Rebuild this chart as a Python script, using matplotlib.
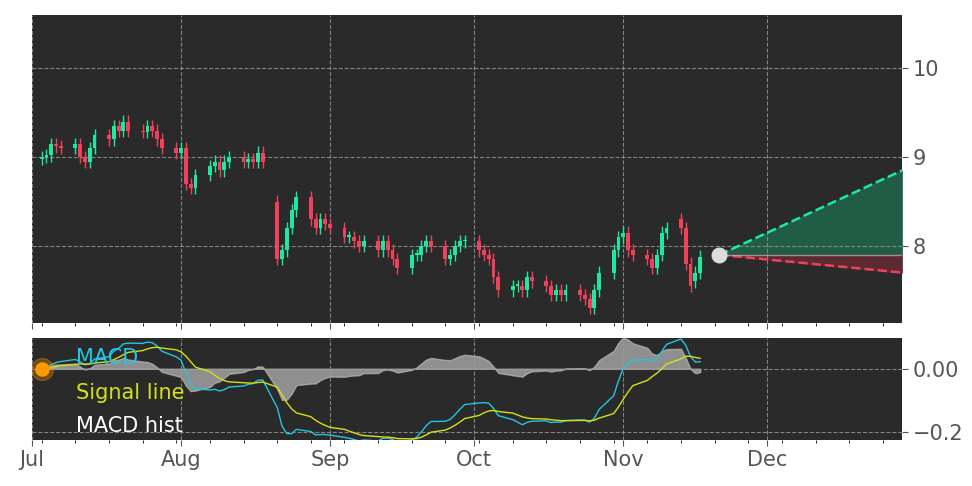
import numpy as np
import pandas as pd
import matplotlib.pyplot as plt
import matplotlib.dates as mdates

dates = pd.bdate_range('2023-07-03', '2023-11-17')
opens = [8.98, 9.0, 9.02, 9.15, 9.12, 9.1, 9.15, 9.0, 8.95, 9.1, 9.25, 9.2, 9.35, 9.3, 9.4, 9.3, 9.28, 9.35, 9.3, 9.2, 9.1,
         9.05, 9.1, 8.7, 8.65, 8.8, 8.9, 8.95, 8.85, 8.95, 9.0, 8.95, 8.98, 8.95, 9.05, 8.5, 7.85, 7.95, 8.2, 8.4, 8.55, 8.3, 8.2, 8.3,
         8.25, 8.2, 8.1, 8.1, 8.05, 8.0, 8.05, 7.95, 8.05, 7.95, 7.85, 7.75, 7.9, 7.9, 8.0, 8.05, 8.0, 7.85, 7.9, 8.0, 8.05,
         8.05, 7.95, 7.9, 7.85, 7.65, 7.5, 7.55, 7.55, 7.5, 7.65, 7.6, 7.55, 7.45, 7.5, 7.45, 7.5, 7.45, 7.4, 7.3, 7.5, 7.7, 7.95,
         8.1, 8.15, 7.95, 7.9, 7.85, 7.75, 7.9, 8.15, 8.3, 8.2, 7.8, 7.6, 7.7]
closes = [9.0, 9.02, 9.15, 9.12, 9.1, 9.15, 9.0, 8.95, 9.1, 9.25, 9.2, 9.35, 9.3, 9.4, 9.3, 9.28, 9.35, 9.3, 9.2, 9.1, 9.05,
          9.1, 8.7, 8.65, 8.8, 8.9, 8.95, 8.85, 8.95, 9.0, 8.95, 8.98, 8.95, 9.05, 8.95, 7.85, 7.95, 8.2, 8.4, 8.55, 8.3, 8.2, 8.3, 8.25,
          8.2, 8.1, 8.1, 8.05, 8.0, 8.05, 7.95, 8.05, 7.95, 7.85, 7.75, 7.9, 7.9, 8.0, 8.05, 8.0, 7.85, 7.9, 8.0, 8.05, 8.05,
          7.95, 7.9, 7.85, 7.65, 7.5, 7.55, 7.55, 7.5, 7.65, 7.6, 7.55, 7.45, 7.5, 7.45, 7.5, 7.45, 7.4, 7.3, 7.5, 7.7, 7.95, 8.1,
          8.15, 7.95, 7.9, 7.85, 7.75, 7.9, 8.15, 8.2, 8.2, 7.8, 7.55, 7.7, 7.88]
wick = 0.07

fc_dates = pd.to_datetime(['2023-11-21', '2023-12-29'])
fc_mid = [7.9, 7.9]
fc_upper = [7.9, 8.85]
fc_lower = [7.9, 7.7]

GREEN = '#1de9a0'
RED = '#f0405a'
BG = '#2a2a2a'

s = pd.Series(closes, index=dates)
macd = s.ewm(span=12, adjust=False).mean() - s.ewm(span=26, adjust=False).mean()
signal = macd.ewm(span=9, adjust=False).mean()
hist = macd - signal

fig = plt.figure(figsize=(9.72, 4.86), dpi=100)
ax = fig.add_axes([0.033, 0.335, 0.895, 0.634])
ax2 = fig.add_axes([0.033, 0.095, 0.895, 0.21], sharex=ax)

for a in (ax, ax2):
    a.set_facecolor(BG)
    a.grid(True, color='#999999', linestyle='--', linewidth=0.8, alpha=0.8)
    a.yaxis.tick_right()
    a.tick_params(labelsize=15, colors='#555555', length=4)
    for sp in a.spines.values():
        sp.set_visible(False)

x = mdates.date2num(dates)
for xi, o, c in zip(x, opens, closes):
    col = GREEN if c >= o else RED
    ax.vlines(xi, min(o, c) - wick, max(o, c) + wick, color=col, linewidth=1)
    ax.bar(xi, max(abs(c - o), 0.02), bottom=min(o, c), width=0.8, color=col)

ax.plot(fc_dates, fc_upper, '--', color=GREEN, linewidth=1.8)
ax.plot(fc_dates, fc_lower, '--', color=RED, linewidth=1.8)
ax.plot(fc_dates, fc_mid, color='#cccccc', linewidth=1, alpha=0.6)
ax.fill_between(fc_dates, fc_mid, fc_upper, color='#1f6b4e', alpha=0.8)
ax.fill_between(fc_dates, fc_lower, fc_mid, color='#6b2a35', alpha=0.8)
ax.scatter(fc_dates[:1], fc_mid[:1], s=110, color='#dddddd', zorder=5)

ax.set_ylim(7.13, 10.6)
ax.set_yticks([8, 9, 10])
ax.set_xlim(pd.Timestamp('2023-07-01'), pd.Timestamp('2023-12-29'))
ax.xaxis.set_major_locator(mdates.MonthLocator())
ax.xaxis.set_major_formatter(mdates.DateFormatter('%b'))
ax.xaxis.set_minor_locator(mdates.WeekdayLocator(byweekday=0))
plt.setp(ax.get_xticklabels(), visible=False)

ax2.fill_between(dates, 0, hist.values, color='#bbbbbb', alpha=0.7)
ax2.plot(dates, macd.values, color='#22c6e0', linewidth=1)
ax2.plot(dates, signal.values, color='#d4e01a', linewidth=1)
ax2.scatter(dates[:1], [0], s=250, color='#ff9900', alpha=0.3, zorder=5)
ax2.scatter(dates[:1], [0], s=90, color='#ff9900', zorder=6)
ax2.set_ylim(-0.225, 0.098)
ax2.set_yticks([-0.2, 0.0])
ax2.set_yticklabels(['\u22120.2', '0.00'])
ax2.text(0.05, 0.80, 'MACD', color='#22c6e0', fontsize=15, transform=ax2.transAxes, va='center')
ax2.text(0.05, 0.46, 'Signal line', color='#d4e01a', fontsize=15, transform=ax2.transAxes, va='center')
ax2.text(0.05, 0.14, 'MACD hist', color='white', fontsize=15, transform=ax2.transAxes, va='center')

fig.savefig('out.png', dpi=100, facecolor='white')
